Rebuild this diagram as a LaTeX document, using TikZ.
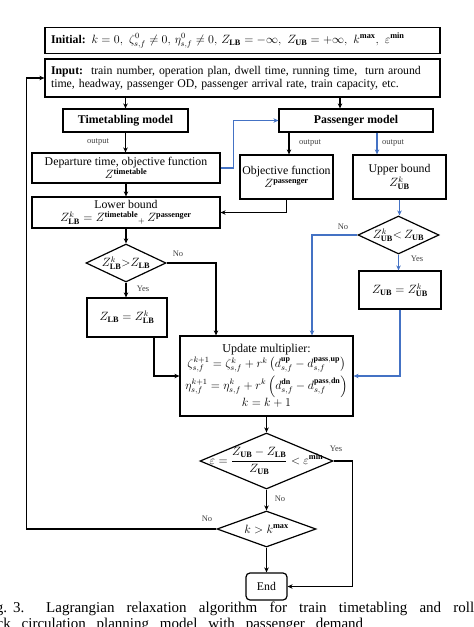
\documentclass[tikz,border=0pt]{standalone}
\usepackage{amsmath}
\usepackage{fontspec}
\setmainfont{Liberation Serif}
\usetikzlibrary{arrows.meta,calc,shapes.geometric}
\definecolor{bl}{RGB}{68,114,196}
\begin{document}
\begin{tikzpicture}[x=1pt,y=-1pt,
  bx/.style 2 args={draw, line width=1.2pt, inner sep=1pt, minimum width=#1, minimum height=#2, align=center, font=\fontsize{11.8}{13}\selectfont},
  dia/.style 2 args={diamond, draw, line width=1.2pt, minimum width=#1, minimum height=#2, inner sep=0pt},
  dtxt/.style={font=\fontsize{11.8}{13}\selectfont, inner sep=0pt},
  arr/.style={-{Stealth[length=5pt,width=4.5pt]}, line width=1.1pt},
  barr/.style={arr, draw=bl},
  lab/.style={font=\fontsize{8.5}{9}\selectfont, text=black!75, inner sep=0pt},
  captxt/.style={font=\fontsize{15}{17}\selectfont, inner sep=0pt}]
\useasboundingbox (0,0) rectangle (474,627);
\clip (0,0) rectangle (474,627);

% boxes
\node[bx={395pt}{25pt}, text width=383pt, align=left, inner sep=6pt] (init) at (242.5,40.5)
  {\textbf{Initial:} $k=0,\ \zeta^0_{s,f}\neq 0,\, \eta^0_{s,f}\neq 0,\, Z_{\mathbf{LB}}=-\infty,\ Z_{\mathbf{UB}}=+\infty,\ k^{\mathbf{max}},\ \varepsilon^{\mathbf{min}}$};
\node[bx={395pt}{38pt}, text width=383pt, align=left, inner sep=6pt] (input) at (242.5,78)
  {\textbf{Input:}\ \ train number, operation plan,\ dwell time, running time,\ \ turn around\\time, headway,\ passenger OD, passenger arrival rate, train capacity, etc.};
\node[bx={125pt}{23pt}] (tt) at (125.5,120.5) {\textbf{Timetabling model}};
\node[bx={154pt}{23pt}] (pm) at (356,120.5) {\textbf{Passenger model}};
\node[bx={188pt}{30pt}] (dep) at (126,168) {Departure time, objective function\\$Z^{\mathbf{timetable}}$};
\node[bx={93pt}{44pt}] (obj) at (286.5,177) {Objective function\\$Z^{\mathbf{passenger}}$};
\node[bx={93pt}{44pt}] (ub) at (399.5,177) {Upper bound\\[1pt]$Z^{k}_{\mathbf{UB}}$};
\node[bx={188pt}{31pt}] (low) at (126,212.5) {Lower bound\\$Z^k_{\mathbf{LB}} = Z^{\mathbf{timetable}}{}_{+}\, Z^{\mathbf{passenger}}$};
\node[dia={81pt}{38pt}] (dub) at (398.5,235) {};
\node[dtxt] at (dub) {$Z^k_{\mathbf{UB}}{<}\,Z_{\mathbf{UB}}$};
\node[dia={80pt}{38pt}] (dlb) at (126,263) {};
\node[dtxt] at (dlb) {$Z^k_{\mathbf{LB}}{>}Z_{\mathbf{LB}}$};
\node[bx={82pt}{38pt}] (zub) at (400,290) {$Z_{\mathbf{UB}} = Z^k_{\mathbf{UB}}$};
\node[bx={80pt}{39pt}] (zlb) at (127,317.5) {$Z_{\mathbf{LB}} = Z^k_{\mathbf{LB}}$};
\node[bx={173pt}{80pt}, font=\fontsize{12}{13.2}\selectfont] (upd) at (266.5,376) {Update multiplier:\\[1.5pt]
  $\zeta^{k+1}_{s,f} = \zeta^k_{s,f} + r^k\left(d^{\mathbf{up}}_{s,f} - d^{\mathbf{pass,up}}_{s,f}\right)$\\[2pt]
  $\eta^{k+1}_{s,f} = \eta^k_{s,f} + r^k\left(d^{\mathbf{dn}}_{s,f} - d^{\mathbf{pass,dn}}_{s,f}\right)$\\[0pt]
  $k = k+1$};
\node[dia={133pt}{56pt}] (eps) at (266.5,461) {};
\node[dtxt] at (eps) {$\varepsilon = \dfrac{Z_{\mathbf{UB}}-Z_{\mathbf{LB}}}{Z_{\mathbf{UB}}} < \varepsilon^{\mathbf{min}}$};
\node[dia={99pt}{36pt}] (kd) at (266.5,529) {};
\node[dtxt] at (kd) {$k > k^{\mathbf{max}}$};
\node[bx={41pt}{27pt}, rounded corners=4pt] (end) at (266.5,586.5) {End};

% helper coordinates
\path (pm.north) ++(-16,0) coordinate (pmin);
\path (obj.north) ++(2.5,0) coordinate (objin);
\path (ub.north) ++(-22.5,0) coordinate (ubin);
\path (upd.north) ++(45.5,0) coordinate (updR);
\path (upd.north) ++(-50.5,0) coordinate (updL);
\path (zlb.south) ++(27,0) coordinate (zlbout);

% connectors
\draw[arr] (input.south -| tt.north) -- (tt.north);
\draw[arr] (input.south -| pmin) -- (pmin);
\draw[arr] (tt.south) -- (tt.south |- dep.north);
\draw[barr] (dep.east) -- ++(13,0) |- (pm.west);
\draw[arr] (pm.south -| objin) -- (objin);
\draw[barr] (pm.south -| ubin) -- (ubin);
\draw[arr] (dep.south) -- (dep.south |- low.north);
\draw[arr] (obj.south) |- (low.east);
\draw[barr] (ub.south) -- (ub.south |- dub.north);
\draw[barr] (dub.west) -| (updR);
\draw[barr] (dub.south) -- (dub.south |- zub.north);
\draw[barr] (zub.south) |- (upd.east);
\draw[arr] (low.south) -- (low.south |- dlb.north);
\draw[arr] (dlb.east) -| (updL);
\draw[arr] (dlb.south) -- (dlb.south |- zlb.north);
\draw[arr] (zlbout) |- (upd.west);
\draw[arr] (upd.south) -- (eps.north);
\draw[arr] (eps.east) -- ++(19,0) |- (end.east);
\draw[arr] (eps.south) -- (kd.north);
\draw[arr] (kd.south) -- (end.north);
\draw[arr] (kd.west) -- ++(-190,0) |- (input.west);

% labels
\node[lab] at (98,142) {output};
\node[lab] at (310,143) {output};
\node[lab] at (393,143) {output};
\node[lab] at (343,227) {No};
\node[lab] at (417,259) {Yes};
\node[lab] at (178,254) {No};
\node[lab] at (143,289) {Yes};
\node[lab] at (336,449) {Yes};
\node[lab] at (280,499) {No};
\node[lab] at (207,519) {No};

% caption (cropped by the picture's edges)
\node[captxt, anchor=base west] (c0) at (-16.8,612) {Fig.\hspace{6pt}3.};
\node[captxt, anchor=base west] (c1) at (46,612) {\makebox[428pt][s]{Lagrangian relaxation algorithm for train timetabling and roll}};
\node[captxt, anchor=base west] (c2) at (-21,628.5) {\makebox[384pt][s]{stock circulation planning model with passenger demand}};
\end{tikzpicture}
\end{document}
